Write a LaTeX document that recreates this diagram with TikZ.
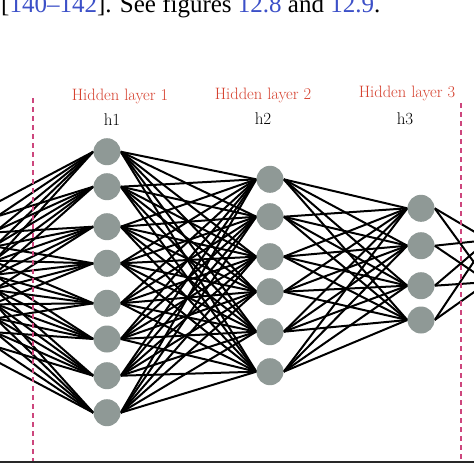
\documentclass[tikz,border=0pt]{standalone}
\usepackage{fontspec}
\newfontfamily\toptext{Liberation Serif}
\definecolor{nodegray}{RGB}{143,153,150}
\definecolor{labred}{RGB}{214,66,48}
\definecolor{dashpink}{RGB}{205,70,125}
\definecolor{reflink}{RGB}{60,80,200}
\definecolor{rulegray}{RGB}{40,40,40}
\pgfdeclarelayer{background}
\pgfsetlayers{background,main}
\begin{document}
\begin{tikzpicture}[x=1pt,y=-1pt,
  neuron/.style={circle,fill=nodegray,minimum size=27pt,inner sep=0pt},
  conn/.style={line width=2pt,black},
  sepline/.style={dashpink,line width=1.05pt,dash pattern=on 5pt off 4pt},
  layerlab/.style={text=labred,font=\fontsize{16.5}{19}\selectfont,anchor=base,inner sep=0pt},
  hlab/.style={font=\fontsize{17}{20}\selectfont,anchor=base,inner sep=0pt}]
\useasboundingbox (0,0) rectangle (474,474);
\clip (0,0) rectangle (474,474);

% cut-off text line at the top
\node[anchor=base west,inner sep=0pt,font=\toptext\fontsize{25}{30}\selectfont] (reftext) at (1,12)
  {[\textcolor{reflink}{140–142}]. See figures \textcolor{reflink}{12.8} and \textcolor{reflink}{12.9}.};

% labels
\node[layerlab] (L1) at (120,100.5) {Hidden layer \oldstylenums{1}};
\node[layerlab] (L2) at (263,99.5) {Hidden layer \oldstylenums{2}};
\node[layerlab] (L3) at (407,97) {Hidden layer \oldstylenums{3}};
\node[hlab] (H1) at (112,125) {h1};
\node[hlab] (H2) at (263,124.5) {h2};
\node[hlab] (H3) at (405,124.5) {h3};

% neurons
\foreach \n/\y in {1/236,2/259,3/282,4/305,5/328}
  \node[neuron] (i\n) at (-80,\y) {};
\foreach \n/\y in {1/151.7,2/186.7,3/226.7,4/263.3,5/303.3,6/339,7/375.7,8/412.7}
  \node[neuron] (a\n) at (107,\y) {};
\foreach \n/\y in {1/179.3,2/216.7,3/256.7,4/291.7,5/331.7,6/371.7}
  \node[neuron] (b\n) at (270,\y) {};
\foreach \n/\y in {1/208.3,2/245.7,3/285.7,4/320}
  \node[neuron] (c\n) at (421,\y) {};
\foreach \n/\y in {1/240,2/282}
  \node[neuron] (o\n) at (502,\y) {};

% connections
\begin{pgfonlayer}{background}
\fill[white] (0,0) rectangle (474,474);
\foreach \i in {1,...,5} \foreach \j in {1,...,8}
  \draw[conn] (i\i.east) -- (a\j.west);
\foreach \i in {1,...,8} \foreach \j in {1,...,6}
  \draw[conn] (a\i.east) -- (b\j.west);
\foreach \i in {1,...,6} \foreach \j in {1,...,4}
  \draw[conn] (b\i.east) -- (c\j.west);
\foreach \i in {1,...,4} \foreach \j in {1,2}
  \draw[conn] (c\i.east) -- (o\j.west);
\end{pgfonlayer}

% separators
\draw[sepline] (33,98) -- (33,462);
\draw[sepline] (461,103) -- (461,462);
\draw[rulegray,line width=1.4pt] (0,462) -- (474,462);
\end{tikzpicture}
\end{document}
